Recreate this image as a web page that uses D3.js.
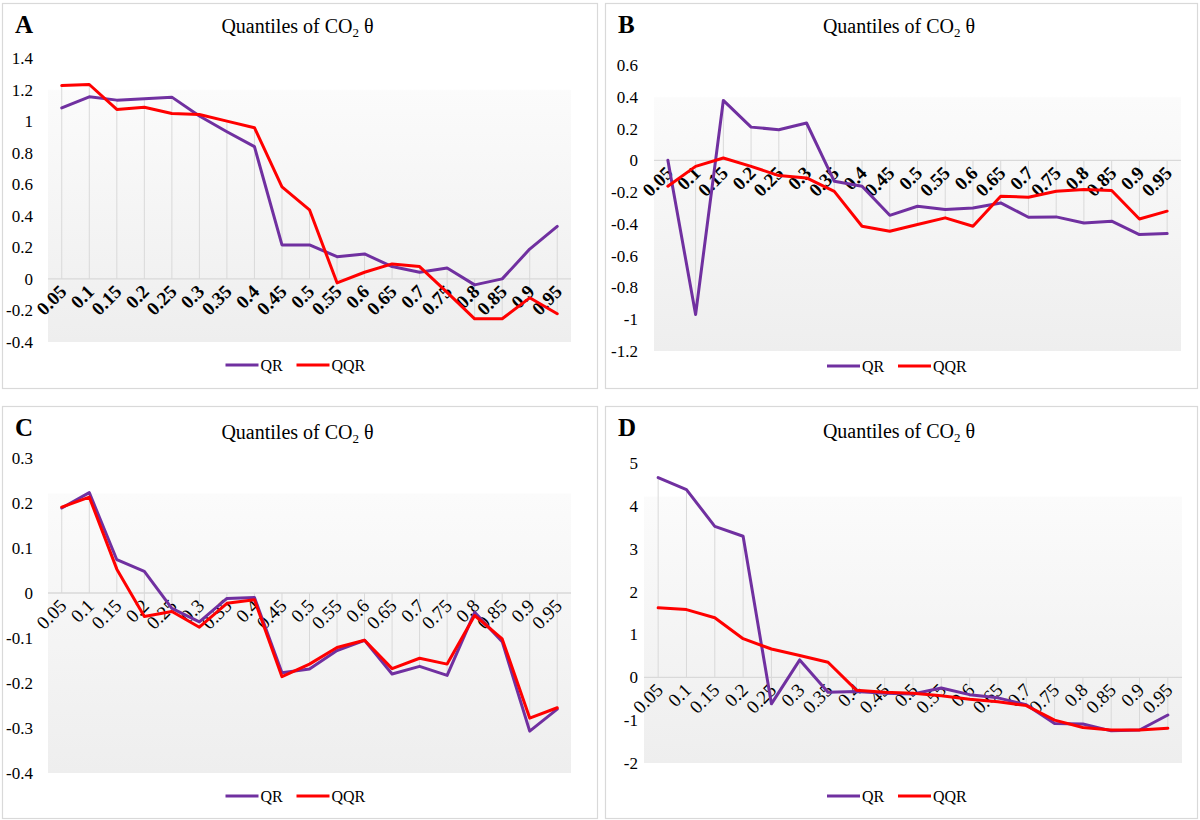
<!DOCTYPE html>
<html>
<head>
<meta charset="utf-8">
<script src="https://cdn.jsdelivr.net/npm/d3@7"></script>
<style>
  body { margin: 0; background: #fff; }
  svg text { font-family: "Liberation Serif", "Times New Roman", serif; fill: #000; }
</style>
</head>
<body>
<svg id="chart" width="1200" height="820"></svg>
<script>
// quantile categories shared by all four panels
var quantiles = ["0.05", "0.1", "0.15", "0.2", "0.25", "0.3", "0.35", "0.4", "0.45", "0.5",
  "0.55", "0.6", "0.65", "0.7", "0.75", "0.8", "0.85", "0.9", "0.95"];

// panel A
var qrA  = [1.084, 1.154, 1.133, 1.141, 1.152, 1.032, 0.933, 0.838, 0.215, 0.215,
  0.141, 0.158, 0.078, 0.042, 0.069, -0.038, 0.0, 0.189, 0.333];
var qqrA = [1.225, 1.232, 1.074, 1.088, 1.048, 1.042, 1.0, 0.958, 0.583, 0.438,
  -0.025, 0.042, 0.095, 0.078, -0.086, -0.253, -0.253, -0.12, -0.221];
var ticksA = [-0.4, -0.2, 0, 0.2, 0.4, 0.6, 0.8, 1, 1.2, 1.4];

// panel B
var qrB  = [0.0, -0.97, 0.377, 0.209, 0.193, 0.235, -0.132, -0.163, -0.346, -0.289,
  -0.31, -0.3, -0.268, -0.358, -0.356, -0.394, -0.383, -0.467, -0.461];
var qqrB = [-0.163, -0.038, 0.015, -0.038, -0.096, -0.111, -0.195, -0.415, -0.446, -0.404,
  -0.362, -0.415, -0.226, -0.232, -0.195, -0.184, -0.19, -0.369, -0.32];
var ticksB = [-1.2, -1, -0.8, -0.6, -0.4, -0.2, 0, 0.2, 0.4, 0.6];

// panel C
var qrC  = [0.189, 0.223, 0.074, 0.048, -0.034, -0.064, -0.012, -0.01, -0.177, -0.169,
  -0.128, -0.105, -0.18, -0.163, -0.183, -0.043, -0.108, -0.307, -0.258];
var qqrC = [0.191, 0.213, 0.053, -0.052, -0.041, -0.076, -0.023, -0.015, -0.186, -0.158,
  -0.121, -0.105, -0.168, -0.145, -0.158, -0.05, -0.102, -0.278, -0.255];
var ticksC = [-0.4, -0.3, -0.2, -0.1, 0, 0.1, 0.2, 0.3];

// panel D
var qrD  = [4.66, 4.38, 3.52, 3.29, -0.62, 0.405, -0.35, -0.33, -0.37, -0.39,
  -0.25, -0.405, -0.48, -0.64, -1.08, -1.09, -1.25, -1.23, -0.88];
var qqrD = [1.62, 1.58, 1.39, 0.9, 0.66, 0.51, 0.35, -0.3, -0.35, -0.37,
  -0.43, -0.51, -0.57, -0.66, -1.0, -1.17, -1.23, -1.23, -1.19];
var ticksD = [-2, -1, 0, 1, 2, 3, 4, 5];

var seriesNames = ["QR", "QQR"];
var seriesColors = ["#7030a0", "#ff0000"];

var panels = [
  { letter: "A", box: [2, 3, 597, 388], plot: { l: 48, r: 571, t: 58, b: 342 }, bold: true,
    series: [qrA, qqrA], ticks: ticksA, titleY: 33, legendY: 365 },
  { letter: "B", box: [605, 3, 1197, 388], plot: { l: 654, r: 1181, t: 65, b: 351 }, bold: true,
    series: [qrB, qqrB], ticks: ticksB, titleY: 33, legendY: 366 },
  { letter: "C", box: [2, 406, 597, 818], plot: { l: 48, r: 571, t: 458, b: 773 }, bold: false,
    series: [qrC, qqrC], ticks: ticksC, titleY: 439, legendY: 796 },
  { letter: "D", box: [605, 406, 1197, 818], plot: { l: 644, r: 1182, t: 463, b: 763 }, bold: false,
    series: [qrD, qqrD], ticks: ticksD, titleY: 438, legendY: 796 }
];

var svg = d3.select('#chart');

// plot area fill: white top fading to light grey
var grad = svg.append('defs').append('linearGradient')
  .attr('id', 'plotFill')
  .attr('x1', 0).attr('y1', 0).attr('x2', 0).attr('y2', 1);
grad.append('stop').attr('offset', '0').attr('stop-color', '#ffffff');
grad.append('stop').attr('offset', '0.11').attr('stop-color', '#ffffff');
grad.append('stop').attr('offset', '0.115').attr('stop-color', '#fbfbfb');
grad.append('stop').attr('offset', '1').attr('stop-color', '#eeeeee');

panels.forEach(function (p) {
  var g = svg.append('g');
  var cx = (p.box[0] + p.box[2]) / 2;

  g.append('rect')
    .attr('x', p.box[0] + 0.5).attr('y', p.box[1] + 0.5)
    .attr('width', p.box[2] - p.box[0]).attr('height', p.box[3] - p.box[1])
    .attr('fill', '#fff').attr('stroke', '#d9d9d9').attr('stroke-width', 1.2);

  var x = d3.scaleBand().domain(quantiles).range([p.plot.l, p.plot.r]).padding(0);
  var y = d3.scaleLinear().domain(d3.extent(p.ticks)).range([p.plot.b, p.plot.t]);
  var xc = function (q) { return x(q) + x.bandwidth() / 2; };

  g.append('rect')
    .attr('x', p.plot.l).attr('y', p.plot.t)
    .attr('width', p.plot.r - p.plot.l).attr('height', p.plot.b - p.plot.t)
    .attr('fill', 'url(#plotFill)');

  // drop lines from the points to the zero line
  g.selectAll('.drop').data(quantiles).enter().append('line')
    .attr('class', 'drop')
    .attr('x1', function (q) { return xc(q); })
    .attr('x2', function (q) { return xc(q); })
    .attr('y1', function (q, i) { return y(Math.max(0, p.series[0][i], p.series[1][i])); })
    .attr('y2', function (q, i) { return y(Math.min(0, p.series[0][i], p.series[1][i])); })
    .attr('stroke', '#d9d9d9').attr('stroke-width', 1);

  // zero line
  g.append('line')
    .attr('x1', p.plot.l).attr('x2', p.plot.r)
    .attr('y1', y(0)).attr('y2', y(0))
    .attr('stroke', '#d9d9d9').attr('stroke-width', 1.3);

  // y axis labels
  var labelRight = (p.letter === 'B' || p.letter === 'D') ? p.box[0] + 33 : 33;
  var yAxis = d3.axisLeft(y).tickValues(p.ticks).tickSize(0).tickPadding(p.plot.l - labelRight)
    .tickFormat(function (d) { return String(+d.toFixed(2)); });
  var ya = g.append('g')
    .attr('transform', 'translate(' + p.plot.l + ',0)')
    .call(yAxis);
  ya.select('.domain').remove();
  ya.selectAll('text').attr('font-size', 17);

  // x axis labels, rotated, hanging off the zero line
  var xAxis = d3.axisBottom(x).tickSize(0);
  var xa = g.append('g')
    .attr('transform', 'translate(0,' + y(0) + ')')
    .call(xAxis);
  xa.select('.domain').remove();
  xa.selectAll('text')
    .attr('x', 0).attr('y', 0).attr('dy', 0)
    .attr('text-anchor', 'end')
    .attr('transform', 'translate(6,14) rotate(-45)')
    .attr('font-size', 19)
    .attr('font-weight', p.bold ? 'bold' : 'normal');

  // series lines
  var lineGen = d3.line()
    .x(function (d, i) { return xc(quantiles[i]); })
    .y(function (d) { return y(d); });

  p.series.forEach(function (s, k) {
    g.append('path')
      .attr('d', lineGen(s))
      .attr('fill', 'none')
      .attr('stroke', seriesColors[k])
      .attr('stroke-width', 3)
      .attr('stroke-linejoin', 'round')
      .attr('stroke-linecap', 'round');
  });

  // panel letter
  g.append('text')
    .attr('x', p.box[0] + 13).attr('y', p.box[1] + 30)
    .attr('font-size', 25).attr('font-weight', 'bold')
    .text(p.letter);

  // title
  var title = g.append('text')
    .attr('x', cx - 2).attr('y', p.titleY)
    .attr('text-anchor', 'middle')
    .attr('font-size', 20);
  title.append('tspan').text('Quantiles of CO');
  title.append('tspan').attr('font-size', 13).attr('dy', 4).text('2');
  title.append('tspan').attr('dy', -4).text(' \u03b8');

  // legend
  var lx = cx - 74;
  seriesNames.forEach(function (name, k) {
    var ox = lx + k * 71;
    g.append('line')
      .attr('x1', ox).attr('x2', ox + 33)
      .attr('y1', p.legendY).attr('y2', p.legendY)
      .attr('stroke', seriesColors[k]).attr('stroke-width', 3);
    g.append('text')
      .attr('x', ox + 35).attr('y', p.legendY + 5.5)
      .attr('font-size', 16)
      .text(name);
  });
});
</script>
</body>
</html>
